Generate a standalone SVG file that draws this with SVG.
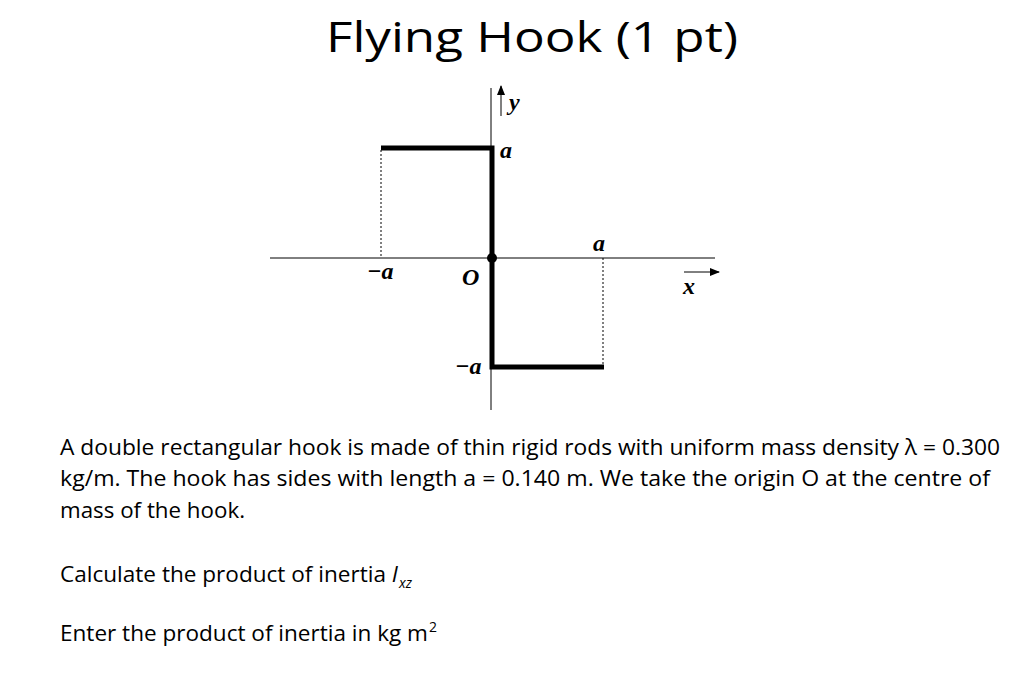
<svg xmlns="http://www.w3.org/2000/svg" width="1024" height="682" viewBox="0 0 1024 682">
<style>
.t{font-family:"Open Sans","Liberation Sans",sans-serif;fill:#000}
.b{font-size:21px}
.m{font-family:"Liberation Serif",serif;font-style:italic;font-weight:bold;font-size:24px}
.ax{stroke:#000;stroke-width:1;fill:none}
.rod{stroke:#000;stroke-width:5;fill:none}
.dot{stroke:#000;stroke-width:1;stroke-dasharray:2,2;fill:none}
</style>
<defs><marker id="ah" markerWidth="10" markerHeight="8" refX="9" refY="4" orient="auto" markerUnits="userSpaceOnUse"><path d="M0,0L10,4L0,8z" fill="#000"/></marker></defs>
<rect width="1024" height="682" fill="#fff"/>
<text class="t" x="532" y="52" font-size="42" text-anchor="middle" textLength="412" lengthAdjust="spacingAndGlyphs">Flying Hook (1 pt)</text>
<g id="axes">
<line class="ax" x1="491" y1="88" x2="491" y2="410" stroke="#777"/>
<line class="ax" x1="270" y1="258" x2="715" y2="258"/>
<line class="ax" x1="501" y1="116" x2="501" y2="86" marker-end="url(#ah)"/>
<line class="ax" x1="684" y1="272" x2="719" y2="272" marker-end="url(#ah)"/>
<line class="dot" x1="381" y1="150" x2="381" y2="258"/>
<line class="dot" x1="603" y1="258" x2="603" y2="366"/>
</g>
<g id="hook">
<path class="rod" d="M381,148H492V367H604"/>
<circle cx="492" cy="258" r="5" fill="#000"/>
</g>
<g id="labels">
<text class="m" x="509" y="110">y</text>
<text class="m" x="500" y="158">a</text>
<text class="m" x="593" y="251">a</text>
<text class="m" x="367" y="279">−a</text>
<text class="m" x="462" y="285">O</text>
<text class="m" x="683" y="294">x</text>
<text class="m" x="455" y="374">−a</text>
</g>
<g id="text">
<text class="t b" x="60" y="455" textLength="940" lengthAdjust="spacingAndGlyphs">A double rectangular hook is made of thin rigid rods with uniform mass density λ = 0.300</text>
<text class="t b" x="60" y="486" textLength="930" lengthAdjust="spacingAndGlyphs">kg/m. The hook has sides with length a = 0.140 m.  We take the origin O at the centre of</text>
<text class="t b" x="60" y="518" textLength="185" lengthAdjust="spacingAndGlyphs">mass of the hook.</text>
<text class="t b" x="60" y="582" textLength="338" lengthAdjust="spacingAndGlyphs">Calculate the product of inertia <tspan font-style="italic">I</tspan></text>
<text class="t" x="399" y="588" font-size="14" font-style="italic">xz</text>
<text class="t b" x="60" y="641" textLength="368" lengthAdjust="spacingAndGlyphs">Enter the product of inertia in kg m</text>
<text class="t" x="429" y="632" font-size="14">2</text>
</g>
</svg>
